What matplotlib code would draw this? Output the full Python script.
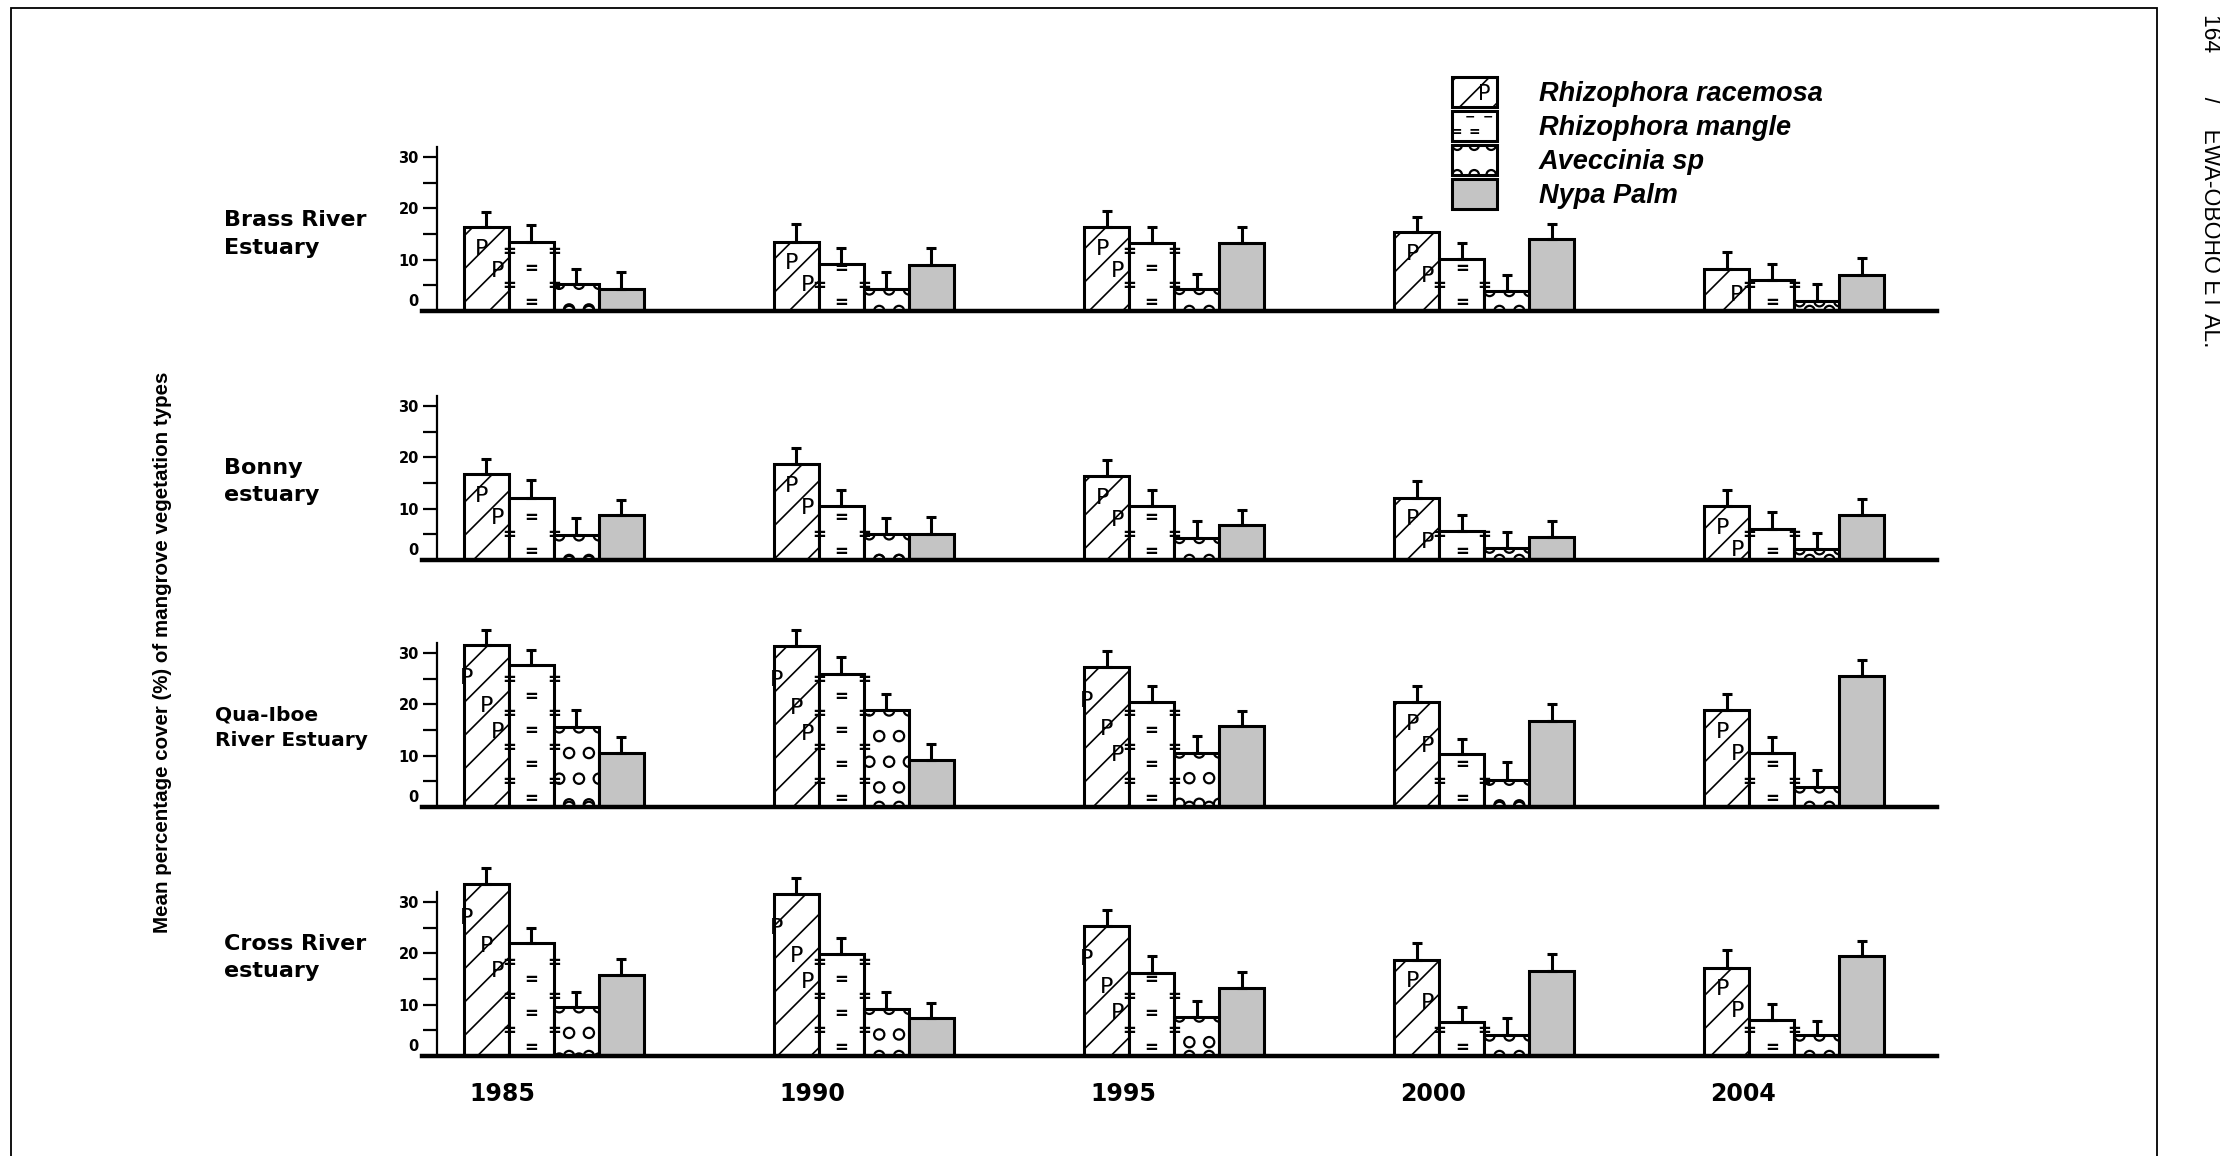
import numpy as np
import matplotlib
matplotlib.use('Agg')
import matplotlib.pyplot as plt
from matplotlib.patches import Patch, Rectangle, Circle
from matplotlib.legend_handler import HandlerPatch
from matplotlib.text import Text
from matplotlib.transforms import ScaledTranslation

years = ['1985', '1990', '1995', '2000', '2004']
species = ['Rhizophora racemosa', 'Rhizophora mangle', 'Aveccinia sp', 'Nypa Palm']
sites = ['Brass River\nEstuary', 'Bonny\nestuary', 'Qua-Iboe\nRiver Estuary', 'Cross River\nestuary']

# mean cover (%) per species, one list per year order above
brass_mean = [[16.3, 13.5, 16.3, 15.4, 8.2],
              [13.5, 9.1, 13.3, 10.2, 6.0],
              [5.3, 4.2, 4.3, 3.9, 1.9],
              [4.3, 9.0, 13.2, 14.1, 7.1]]
brass_err = [[3.0, 3.4, 3.2, 3.0, 3.3],
             [3.3, 3.1, 3.0, 3.0, 3.2],
             [2.9, 3.3, 3.0, 3.1, 3.3],
             [3.2, 3.2, 3.2, 2.8, 3.3]]
bonny_mean = [[16.7, 18.7, 16.3, 12.1, 10.5],
              [12.1, 10.5, 10.5, 5.7, 6.0],
              [4.8, 5.0, 4.3, 2.4, 2.1],
              [8.7, 5.0, 6.8, 4.5, 8.8]]
bonny_err = [[3.0, 3.2, 3.2, 3.3, 3.2],
             [3.4, 3.2, 3.2, 3.0, 3.4],
             [3.4, 3.2, 3.2, 3.1, 3.2],
             [3.0, 3.4, 2.9, 3.0, 3.1]]
qua_mean = [[31.6, 31.3, 27.2, 20.4, 18.8],
            [27.6, 26.0, 20.4, 10.3, 10.5],
            [15.5, 18.8, 10.6, 5.3, 3.8],
            [10.5, 9.1, 15.7, 16.8, 25.5]]
qua_err = [[2.9, 3.1, 3.1, 3.1, 3.2],
           [3.0, 3.2, 3.2, 3.0, 3.1],
           [3.3, 3.2, 3.2, 3.4, 3.3],
           [3.1, 3.2, 2.9, 3.3, 3.1]]
cross_mean = [[33.5, 31.5, 25.4, 18.8, 17.2],
              [22.1, 19.8, 16.1, 6.6, 7.0],
              [9.5, 9.2, 7.7, 4.0, 4.0],
              [15.7, 7.4, 13.2, 16.6, 19.5]]
cross_err = [[3.2, 3.3, 3.1, 3.3, 3.4],
             [2.9, 3.2, 3.4, 3.0, 3.1],
             [2.9, 3.2, 3.1, 3.4, 2.9],
             [3.3, 2.9, 3.1, 3.2, 2.9]]

means = [brass_mean, bonny_mean, qua_mean, cross_mean]
errs = [brass_err, bonny_err, qua_err, cross_err]

plt.rcParams['hatch.linewidth'] = 1.2
hatches = ['/', '', '', '']
faces = ['white', 'white', 'white', '#c4c4c4']

fig = plt.figure(figsize=(22.2, 11.56), dpi=100)
bottoms = [0.731, 0.5156, 0.302, 0.0865]
label_y = [15, 15.3, 15.5, 19.2]
label_size = [16, 16, 14.5, 16]
x = np.arange(len(years))
w = 0.145

axes = []
for s in range(4):
    ax = fig.add_axes([0.1968, bottoms[s], 0.6757, 0.1686])
    ax.patch.set_alpha(0)
    axes.append(ax)
    for k in range(4):
        vals = np.array(means[s][k])
        bars = ax.bar(x + k * w, vals, w, align='edge', color=faces[k],
                      edgecolor='black', linewidth=2.2, hatch=hatches[k],
                      label=species[k], zorder=2)
        ax.errorbar(x + k * w + w / 2, vals, yerr=[np.zeros(5), errs[s][k]],
                    fmt='none', ecolor='black', elinewidth=2.2, capsize=3.5,
                    capthick=2.2, zorder=3)
        # letter "P" pattern inside Rhizophora racemosa
        if k == 0:
            for b, h in zip(bars, vals):
                if h > 24:
                    spots = [(0.05, h - 6.5), (0.5, h - 12), (0.74, h - 17)]
                elif h > 9:
                    spots = [(0.4, h - 4.2), (0.74, h - 8.5)]
                else:
                    spots = [(0.72, h - 5)]
                for fx, fy in spots:
                    t = ax.text(b.get_x() + fx * w, fy, 'P', fontsize=16,
                                ha='center', va='center', zorder=2.5)
                    t.set_clip_path(b)
        # dash pattern inside Rhizophora mangle
        if k == 1:
            for b, h in zip(bars, vals):
                for r, yy in enumerate(np.arange(1.6, h - 0.8, 3.3)):
                    pos = [0.5] if r % 2 == 0 else [0.0, 1.0]
                    for fx in pos:
                        t = ax.text(b.get_x() + fx * w, yy, '=', fontsize=12,
                                    fontweight='bold', ha='center', va='center',
                                    zorder=2.5)
                        t.set_clip_path(b)
        # open circles (scalloped edges) inside Aveccinia
        if k == 2:
            for b, h in zip(bars, vals):
                cx, cy = [], []
                for r, yy in enumerate(np.arange(h, -0.6, -5.0)):
                    cols = [0.12, 0.56, 1.0] if r % 2 == 0 else [0.34, 0.78]
                    cx += [b.get_x() + c * w for c in cols]
                    cy += [yy] * len(cols)
                cx += [b.get_x() + c * w for c in [0.34, 0.78]]
                cy += [0, 0]
                sc = ax.scatter(cx, cy, s=55, facecolors='none',
                                edgecolors='black', linewidths=1.6, zorder=2.5)
                sc.set_clip_path(b)
    ax.set_xlim(-0.087, 4.75)
    ax.set_ylim(0, 38)
    for side in ['top', 'right']:
        ax.spines[side].set_visible(False)
    ax.spines['left'].set_bounds(0, 32)
    ax.spines['left'].set_linewidth(1.6)
    ax.spines['bottom'].set_linewidth(3.2)
    ax.spines['bottom'].set_bounds(-0.135, 4.75)
    ax.set_yticks(np.arange(5, 31, 5))
    ax.set_yticklabels(['', '10', '', '20', '', '30'])
    ax.tick_params(axis='y', length=10, width=1.6, pad=3, labelsize=10.5)
    for lab in ax.get_yticklabels():
        lab.set_fontweight('bold')
    # the "0" label sits a little above the baseline in the original
    ax.text(0, 1.8, '0', fontsize=10.5, fontweight='bold', ha='right',
            va='center', transform=ax.get_yaxis_transform()
            + ScaledTranslation(-13 / 72, 0, fig.dpi_scale_trans))
    if s < 3:
        ax.set_xticks([])
    else:
        ax.set_xticks(x + 0.125)
        ax.set_xticklabels(years, fontsize=17, fontweight='bold')
        ax.tick_params(axis='x', length=0, pad=19)
    ax.text(-0.142 if s != 2 else -0.148, label_y[s], sites[s],
            transform=ax.get_yaxis_transform(), fontsize=label_size[s],
            fontweight='bold', ha='left', va='center', linespacing=1.45)


class HandlerMarked(HandlerPatch):
    def __init__(self, marks=(), circles=(), **kw):
        super().__init__(**kw)
        self.marks = marks
        self.circles = circles

    def create_artists(self, legend, orig_handle, xdescent, ydescent,
                       width, height, fontsize, trans):
        arts = super().create_artists(legend, orig_handle, xdescent, ydescent,
                                      width, height, fontsize, trans)
        box = arts[0]
        for fx, fy, txt, fs, wt in self.marks:
            t = Text(x=-xdescent + fx * width, y=-ydescent + fy * height,
                     text=txt, ha='center', va='center', fontsize=fs,
                     fontweight=wt)
            t.set_transform(trans)
            t.set_clip_path(box)
            arts.append(t)
        for fx, fy in self.circles:
            c = Circle((-xdescent + fx * width, -ydescent + fy * height),
                       radius=0.16 * height, fill=False, edgecolor='black',
                       linewidth=1.6)
            c.set_transform(trans)
            c.set_clip_path(box)
            arts.append(c)
        return arts


handles = [Patch(facecolor=faces[k], edgecolor='black', linewidth=2.2,
                 hatch=hatches[k]) for k in range(4)]
hmap = {handles[0]: HandlerMarked(marks=[(0.72, 0.45, 'P', 15, 'normal')]),
        handles[1]: HandlerMarked(marks=[(0.4, 0.8, '−', 9, 'bold'),
                                         (0.8, 0.8, '−', 9, 'bold'),
                                         (0.1, 0.3, '=', 10, 'bold'),
                                         (0.5, 0.3, '=', 10, 'bold')]),
        handles[2]: HandlerMarked(circles=[(0.12, 1.0), (0.5, 1.0), (0.88, 1.0),
                                           (0.12, 0.0), (0.5, 0.0), (0.88, 0.0)])}
leg = fig.legend(handles, species, loc='upper left',
                 bbox_to_anchor=(0.654, 0.933), frameon=False,
                 borderpad=0, borderaxespad=0, handlelength=1.65,
                 handleheight=1.3, handletextpad=1.55, labelspacing=0.15,
                 handler_map=hmap,
                 prop={'family': 'Liberation Sans', 'weight': 'bold',
                       'style': 'italic', 'size': 19.5})

fig.text(163 / 2220, 1 - 652 / 1156,
         'Mean percentage cover (%) of mangrove vegetation types',
         rotation=90, ha='center', va='center', fontsize=14.8,
         fontweight='bold', family='Liberation Sans')

fig.text(2210 / 2220, 1 - 14 / 1156, '164       /    EWA-OBOHO ET AL.',
         rotation=270, ha='center', va='top', fontsize=16.5,
         family='Liberation Sans')

fig.patches.append(Rectangle((11 / 2220, -0.02), (2157 - 11) / 2220,
                             1.02 - 8 / 1156, transform=fig.transFigure,
                             fill=False, edgecolor='black', linewidth=1.3))

fig.savefig('out.png', dpi=100)
